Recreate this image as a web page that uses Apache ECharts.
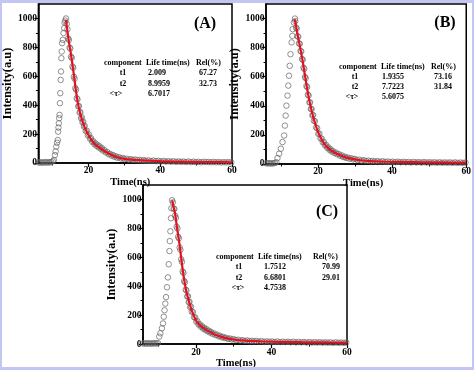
<!DOCTYPE html>
<html><head><meta charset="utf-8">
<script src="https://cdn.jsdelivr.net/npm/echarts@6/dist/echarts.min.js"></script>
<style>html,body{margin:0;padding:0;background:#fff}#c{width:474px;height:370px}</style>
</head><body><div id="c"></div>
<script>
// ---- tick values ----
const xTickLabels = [20, 40, 60];
const xMinorTicks = [10, 30, 50];
const yTickLabels = [0, 200, 400, 600, 800, 1000];
const yMinorTicks = [100, 300, 500, 700, 900];

// ---- shared time grids (ns) ----
const decayTime = [13.9,14.1,14.3,14.5,14.7,14.9,15.1,15.3,15.5,15.7,15.9,16.1,16.3,16.5,16.7,16.9,17.1,17.3,17.5,17.7,17.9,18.1,18.3,18.5,18.7,18.9,
19.2,19.5,19.8,20.1,20.4,20.7,21.0,21.3,21.6,21.9,22.2,22.5,22.8,23.1,23.4,23.7,24.0,
24.4,24.8,25.2,25.6,26.0,26.4,26.8,27.2,27.6,28.0,
28.5,29.0,29.5,30.0,
30.6,31.2,31.8,32.4,33.0,33.6,34.2,34.8,35.4,36.0,
36.7,37.4,38.1,38.8,39.5,40.2,40.9,41.6,42.3,43.0,43.7,44.4,45.1,45.8,46.5,47.2,47.9,48.6,49.3,50.0,50.7,51.4,52.1,52.8,53.5,54.2,54.9,55.6,56.3,57.0,57.7,58.4,59.1,59.8];
const fitTime = [13.7,14.0,14.5,15.0,15.5,16.0,16.5,17.0,17.5,18.0,18.5,19.0,20.0,21.0,22.0,23.0,24.0,25.0,26.0,27.0,28.0,30.0,32.0,34.0,36.0,38.0,40.0,44.0,48.0,52.0,56.0,60.0];

// ---- panel A ----
const aRiseTime = [6.0,6.4,6.8,7.2,7.6,8.0,8.4,8.8,9.2,9.6,10.0,10.3,10.6,10.8,11.0,11.2,11.4,11.5,11.6,11.7,11.8,11.9,12.0,12.1,12.2,12.3,12.4,12.5,12.6,12.8,13.0,13.2,13.3,13.5,13.7];
const aRiseCounts = [4,3,5,2,4,6,3,5,4,7,12,21,55,80,113,140,159,217,245,275,310,333,414,483,575,633,725,771,829,852,899,933,972,985,1000];
const aDecayCounts = [962,925,862,851,798,792,735,728,668,659,597,583,518,507,448,441,392,394,349,352,309,316,281,287,252,258,
221,224,191,197,168,172,146,151,130,137,118,125,108,115,98,104,86,
90,73,76,61,64,51,55,43,47,36,
40,31,35,27,
30,24,26,21,24,19,22,17,20,15,
18,14,17,13,15,11,14,10,13,9,12,8,11,8,10,7,10,6,9,6,8,5,8,6,7,5,7,5,6,4,6,4,6,4];
const aFit = [990,930,840,765,680,590,495,415,360,312,276,240,192,152,125,108,90,74,60,48,40,29,23,20,17,15,13,10,8,7,6,5];
const aTable = [['t1','2.009','67.27'],['t2','8.9959','32.73'],['<τ>','6.7017','']];

// ---- panel B ----
const bRiseTime = [6.0,6.4,6.8,7.2,7.6,8.0,8.4,8.8,9.1,9.55,10.0,10.45,10.9,11.1,11.3,11.5,11.8,12.0,12.2,12.4,12.6,12.9,13.1,13.2,13.5,13.8];
const bRiseCounts = [5,4,6,3,5,4,7,12,41,71,105,151,196,264,333,401,470,539,607,675,755,836,881,927,973,1000];
const bDecayCounts = [983,938,931,879,874,829,826,777,774,722,716,662,654,598,590,536,529,477,471,424,423,378,378,334,337,298,
294,251,246,207,209,176,175,149,152,128,131,111,115,97,102,86,90,
76,79,66,69,56,60,48,51,42,45,
36,40,32,35,
27,30,23,26,20,23,18,21,17,20,
16,19,15,17,14,16,13,16,12,15,12,14,11,14,11,13,10,13,10,12,10,12,9,12,9,11,9,11,8,11,8,10,8,10];
const bFit = [995,965,890,828,763,690,610,532,460,400,345,300,222,168,130,104,86,72,60,49,42,32,24,20,18,16,15,13,12,11,10,9];
const bTable = [['t1','1.9355','73.16'],['t2','7.7223','31.84'],['<τ>','5.6075','']];

// ---- panel C ----
const cRiseTime = [6.0,6.4,6.8,7.2,7.6,8.0,8.4,8.8,9.2,9.6,9.95,10.3,10.6,11.0,11.3,11.5,11.7,11.9,12.1,12.35,12.6,12.8,13.0,13.1,13.25,13.4,13.5,13.7];
const cRiseCounts = [4,5,3,6,4,5,3,6,5,4,7,52,75,109,143,189,234,280,325,393,461,552,643,712,780,870,939,995];
const cDecayCounts = [980,936,935,888,873,812,799,742,731,668,652,587,569,503,492,436,427,376,371,329,331,290,293,255,259,224,
222,186,185,155,159,135,138,120,125,107,113,98,103,89,93,80,84,
71,74,62,66,54,57,47,50,42,44,
36,39,32,35,
28,30,25,27,22,25,20,23,19,22,
18,21,16,19,16,18,15,18,14,17,14,16,13,16,12,15,12,14,11,14,11,13,11,13,10,12,10,12,9,12,9,11,9,11];
const cFit = [995,960,900,805,720,620,515,430,360,310,265,225,165,132,111,95,80,67,57,48,41,32,26,22,20,18,17,15,13,12,11,10];
const cTable = [['t1','1.7512','70.99'],['t2','6.6801','29.01'],['<τ>','4.7538','']];

const tableHeader = ['component', 'Life time(ns)', 'Rel(%)'];
const panelLabels = ['(A)', '(B)', '(C)'];

// ---- layout / style ----
const SERIF = '"Liberation Serif", "Times New Roman", serif';
const grids = [
  {left: 31, top: 4, width: 201, height: 159},
  {left: 266, top: 4, width: 203, height: 160},
  {left: 143, top: 185, width: 204, height: 163}
];
const panels = [
  {rt: aRiseTime, rc: aRiseCounts, dc: aDecayCounts, fit: aFit, table: aTable,
   label: [205, 24], head: [104, 146, 196], col: [123, 116, 148, 199], rows: [63, 73, 83.5, 94], xnamePad: 10, xnameGap: 7},
  {rt: bRiseTime, rc: bRiseCounts, dc: bDecayCounts, fit: bFit, table: bTable,
   label: [445, 23], head: [339, 381, 431], col: [355, 352, 382, 434], rows: [66.5, 77, 87, 97], xnamePad: 6, xnameGap: 11},
  {rt: cRiseTime, rc: cRiseCounts, dc: cDecayCounts, fit: cFit, table: cTable,
   label: [327, 212], head: [216, 258, 313], col: [239, 238, 264, 322], rows: [257, 267, 277.5, 288], xnamePad: 18, xnameGap: 9}
];

const pairs = (t, v) => t.map((x, i) => [x, v[i]]);
const labelFont = {fontFamily: SERIF, fontWeight: 'bold', fontSize: 9.5, color: '#000'};
const plain = v => String(v);

const xAxis = [], yAxis = [], series = [], graphic = [];
panels.forEach((p, g) => {
  xAxis.push({
    type: 'value', gridIndex: g, min: 6, max: 60, position: 'bottom',
    name: 'Time(ns)', nameLocation: 'middle', nameGap: p.xnameGap,
    nameTextStyle: {fontFamily: SERIF, fontWeight: 'bold', fontSize: 10.5, color: '#000', padding: [0, p.xnamePad, 0, 0]},
    axisLine: {show: true, lineStyle: {color: '#000', width: 1.5}},
    axisTick: {show: true, length: 4, lineStyle: {color: '#000', width: 1.2}, customValues: xTickLabels},
    axisLabel: Object.assign({margin: 3, customValues: xTickLabels, formatter: plain}, labelFont),
    splitLine: {show: false}
  });
  xAxis.push({
    type: 'value', gridIndex: g, min: 6, max: 60, position: 'bottom',
    axisLine: {show: false},
    axisTick: {show: true, length: 2.5, lineStyle: {color: '#000', width: 1}, customValues: xMinorTicks},
    axisLabel: {show: false}, splitLine: {show: false}
  });
  yAxis.push({
    type: 'value', gridIndex: g, min: 0, max: 1100, position: 'left',
    name: 'Intensity(a.u)', nameLocation: 'middle', nameGap: 15, nameRotate: 90,
    nameTextStyle: {fontFamily: SERIF, fontWeight: 'bold', fontSize: 12.5, color: '#000'},
    axisLine: {show: true, lineStyle: {color: '#000', width: 1.5}},
    axisTick: {show: true, length: 4, lineStyle: {color: '#000', width: 1.2}, customValues: yTickLabels},
    axisLabel: Object.assign({margin: 1.5, customValues: yTickLabels, formatter: plain}, labelFont),
    splitLine: {show: false}
  });
  yAxis.push({
    type: 'value', gridIndex: g, min: 0, max: 1100, position: 'left',
    axisLine: {show: false},
    axisTick: {show: true, length: 2.5, lineStyle: {color: '#000', width: 1}, customValues: yMinorTicks},
    axisLabel: {show: false}, splitLine: {show: false}
  });
  const data = pairs(p.rt, p.rc).concat(pairs(decayTime, p.dc));
  series.push({
    type: 'scatter', xAxisIndex: 2 * g, yAxisIndex: 2 * g, clip: false,
    symbol: 'circle', symbolSize: 5.5, data: data,
    itemStyle: {color: 'rgba(0,0,0,0)', borderColor: '#666', borderWidth: 0.9}
  });
  series.push({
    type: 'line', xAxisIndex: 2 * g, yAxisIndex: 2 * g, smooth: 0.3,
    showSymbol: false, data: pairs(fitTime, p.fit),
    lineStyle: {color: '#e3101e', width: 2.2}
  });
  graphic.push({type: 'text', z: 100, style: {text: panelLabels[g], x: p.label[0], y: p.label[1],
    font: 'bold 16px ' + SERIF, fill: '#000', textAlign: 'center', textVerticalAlign: 'middle'}});
  tableHeader.forEach((h, k) => graphic.push({type: 'text', z: 100, style: {text: h, x: p.head[k], y: p.rows[0],
    font: 'bold 8px ' + SERIF, fill: '#000', textAlign: 'left', textVerticalAlign: 'middle'}}));
  p.table.forEach((row, r) => {
    const y = p.rows[r + 1];
    graphic.push({type: 'text', z: 100, style: {text: row[0], x: r < 2 ? p.col[0] : p.col[1], y: y,
      font: 'bold 8px ' + SERIF, fill: '#000', textAlign: 'center', textVerticalAlign: 'middle'}});
    graphic.push({type: 'text', z: 100, style: {text: row[1], x: p.col[2], y: y,
      font: 'bold 8px ' + SERIF, fill: '#000', textAlign: 'left', textVerticalAlign: 'middle'}});
    if (row[2]) graphic.push({type: 'text', z: 100, style: {text: row[2], x: p.col[3], y: y,
      font: 'bold 8px ' + SERIF, fill: '#000', textAlign: 'left', textVerticalAlign: 'middle'}});
  });
});

const frameColor = '#c3c6f2';
graphic.push({type: 'rect', z: 200, shape: {x: 0, y: 0, width: 474, height: 3}, style: {fill: frameColor}});
graphic.push({type: 'rect', z: 200, shape: {x: 0, y: 367, width: 474, height: 3}, style: {fill: frameColor}});
graphic.push({type: 'rect', z: 200, shape: {x: 0, y: 0, width: 2, height: 370}, style: {fill: frameColor}});
graphic.push({type: 'rect', z: 200, shape: {x: 472, y: 0, width: 2, height: 370}, style: {fill: frameColor}});

const chart = echarts.init(document.getElementById('c'), null, {renderer: 'canvas'});
chart.setOption({
  animation: false,
  backgroundColor: '#fff',
  grid: grids.map(g => Object.assign({show: true, borderColor: '#000', borderWidth: 1.5, backgroundColor: 'transparent'}, g)),
  xAxis: xAxis, yAxis: yAxis, series: series, graphic: graphic
});
</script></body></html>
